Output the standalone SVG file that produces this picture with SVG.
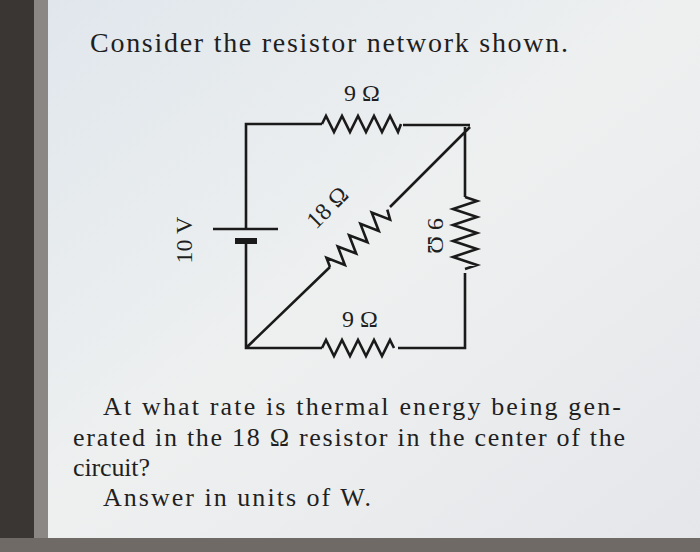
<svg xmlns="http://www.w3.org/2000/svg" width="700" height="552" viewBox="0 0 700 552">
<defs>
<linearGradient id="bg" x1="0" y1="0" x2="1" y2="1">
<stop offset="0" stop-color="#dfe6ec"/><stop offset="0.5" stop-color="#eef0f0"/><stop offset="1" stop-color="#e4e6ea"/>
</linearGradient>
</defs>
<style>
.w{fill:none;stroke:#1a1a1a;stroke-width:2.6;stroke-linejoin:miter}
.t{font-family:"Liberation Serif","DejaVu Serif",serif;fill:#1f1f1f}
</style>
<rect width="700" height="552" fill="url(#bg)"/>
<rect x="0" y="0" width="34" height="552" fill="#3a3634"/>
<rect x="34" y="0" width="14" height="552" fill="#8a8784"/>
<rect x="0" y="538" width="700" height="14" fill="#6f6a66"/>
<text class="t" x="90" y="52" font-size="28" textLength="478" lengthAdjust="spacing">Consider the resistor network shown.</text>
<g id="connectors">
<path class="w" d="M322,124 H246 V229 M246,241 V348 H322 M398,348 H465 V273 M465,197 V127 M403,125 H470 M246,348 L330,267 M390,207 L470,127"/>
</g>
<g id="r_top"><path class="w" d="M322,124 l4,-8 l8,16 l8,-16 l8,16 l8,-16 l8,16 l8,-16 l8,16 l8,-16 l8,16 l3,-8"/>
<text class="t" x="362" y="101" font-size="24" text-anchor="middle">9 Ω</text></g>
<g id="r_bottom"><path class="w" d="M322,348 l4,-8 l8,16 l8,-16 l8,16 l8,-16 l8,16 l8,-16 l8,16 l8,-16 l4,8"/>
<text class="t" x="360" y="327" font-size="24" text-anchor="middle">9 Ω</text></g>
<g id="r_right"><path class="w" d="M465,197 l12,4 l-24,8 l24,8 l-24,8 l24,8 l-24,8 l24,8 l-24,8 l24,8 l-12,4"/>
<text class="t" font-size="24" text-anchor="middle" transform="translate(428,236) rotate(90)">9 Ω</text></g>
<g id="r_diag"><path class="w" transform="translate(330,267) rotate(-45)" d="M0,0 l4,-9 l8,18 l8,-18 l8,18 l8,-18 l8,18 l8,-18 l8,18 l8,-18 l8,18 l5,-9"/>
<text class="t" font-size="24" text-anchor="middle" transform="translate(333,213) rotate(-45)">18 Ω</text></g>
<g id="battery"><line class="w" x1="213" y1="229" x2="278" y2="229"/>
<rect x="235" y="238" width="22" height="6" fill="#1a1a1a"/>
<text class="t" font-size="24" text-anchor="middle" transform="translate(192,240) rotate(-90)">10 V</text></g>
<text class="t" x="103" y="415" font-size="26" textLength="518" lengthAdjust="spacing">At what rate is thermal energy being gen-</text>
<text class="t" x="73" y="446" font-size="26" textLength="552" lengthAdjust="spacing">erated in the 18 Ω resistor in the center of the</text>
<text class="t" x="73" y="476" font-size="26" textLength="77" lengthAdjust="spacing">circuit?</text>
<text class="t" x="103" y="506" font-size="26" textLength="268" lengthAdjust="spacing">Answer in units of W.</text>
</svg>
